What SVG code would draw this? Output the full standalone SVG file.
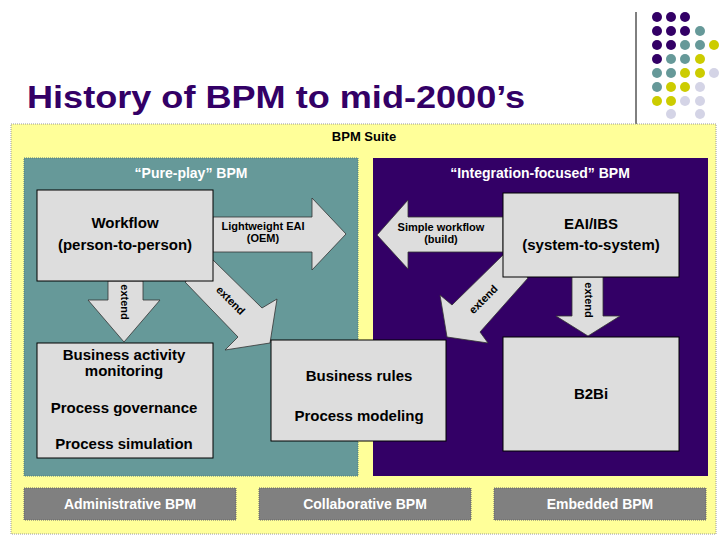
<svg xmlns="http://www.w3.org/2000/svg" width="728" height="546" viewBox="0 0 728 546">
<style>
text{font-family:"Liberation Sans",Arial,sans-serif;font-weight:bold}
.box{fill:#dddddd;stroke:#000;stroke-width:1}
.arr{fill:#dddddd;stroke:#333;stroke-width:0.8}
.t{font-size:15px;fill:#000;text-anchor:middle}
.s{font-size:11px;fill:#000;text-anchor:middle}
.e{font-size:11px;fill:#000;text-anchor:middle}
.h{font-size:14px;fill:#fff;text-anchor:middle}
.bot{fill:#808080;stroke:#666;stroke-dasharray:1 1}
.p{fill:#330066}.g{fill:#669999}.y{fill:#cccc00}.l{fill:#d4d4e6}
</style>
<rect width="728" height="546" fill="#fff"/>
<text x="27" y="108" font-size="32" fill="#330066" textLength="498" lengthAdjust="spacingAndGlyphs">History of BPM to mid-2000’s</text>
<line x1="636" y1="12" x2="636" y2="124" stroke="#000" stroke-width="1"/>
<g id="dots">
<circle class="p" cx="657" cy="17" r="5"/><circle class="p" cx="671" cy="17" r="5"/><circle class="p" cx="685" cy="17" r="5"/>
<circle class="p" cx="657" cy="31" r="5"/><circle class="p" cx="671" cy="31" r="5"/><circle class="p" cx="685" cy="31" r="5"/><circle class="g" cx="700" cy="31" r="5"/>
<circle class="p" cx="657" cy="45" r="5"/><circle class="p" cx="671" cy="45" r="5"/><circle class="g" cx="685" cy="45" r="5"/><circle class="g" cx="700" cy="45" r="5"/><circle class="y" cx="714" cy="45" r="5"/>
<circle class="p" cx="657" cy="59" r="5"/><circle class="g" cx="671" cy="59" r="5"/><circle class="g" cx="685" cy="59" r="5"/><circle class="y" cx="700" cy="59" r="5"/>
<circle class="g" cx="657" cy="73" r="5"/><circle class="g" cx="671" cy="73" r="5"/><circle class="y" cx="685" cy="73" r="5"/><circle class="y" cx="700" cy="73" r="5"/><circle class="l" cx="714" cy="73" r="5"/>
<circle class="g" cx="657" cy="87" r="5"/><circle class="y" cx="671" cy="87" r="5"/><circle class="y" cx="685" cy="87" r="5"/><circle class="l" cx="700" cy="87" r="5"/>
<circle class="y" cx="657" cy="101" r="5"/><circle class="y" cx="671" cy="101" r="5"/><circle class="l" cx="685" cy="101" r="5"/><circle class="l" cx="700" cy="101" r="5"/>
<circle class="l" cx="671" cy="114" r="5"/><circle class="l" cx="700" cy="114" r="5"/>
</g>
<g id="suite">
<rect x="11" y="124" width="705" height="410" fill="#ffff99" stroke="#999" stroke-dasharray="1 1"/>
<text x="364" y="141" font-size="13" text-anchor="middle">BPM Suite</text>
</g>
<g id="pureplay">
<rect x="24" y="158" width="334" height="318" fill="#669999" stroke="#557f7f" stroke-dasharray="1 1"/>
<text class="h" x="191" y="178">“Pure-play” BPM</text>
</g>
<g id="integration">
<rect x="373" y="158" width="335" height="318" fill="#330066"/>
<text class="h" x="540" y="178">“Integration-focused” BPM</text>
</g>
<g id="connectors">
<polygon class="arr" points="213,217 312,217 312,198 346,234 312,270 312,252 213,252"/>
<text class="s" x="263" y="230">Lightweight EAI</text><text class="s" x="263" y="242">(OEM)</text>
<polygon class="arr" points="503,217 408,217 408,200 377,235 408,269 408,252 503,252"/>
<text class="s" x="441" y="231">Simple workflow</text><text class="s" x="441" y="243">(build)</text>
<polygon class="arr" points="108,281 143,281 143,300 160,300 124,342 88,300 108,300"/>
<text class="e" transform="translate(121,302) rotate(90)">extend</text>
<polygon class="arr" points="572,277 603,277 603,316 620,316 588,336 556,316 572,316"/>
<text class="e" transform="translate(585,300) rotate(90)">extend</text>
<polygon class="arr" points="213,260 262,308 277,299 270,343 225,350 238,337 185,282"/>
<text class="e" transform="translate(228,303) rotate(45)">extend</text>
<polygon class="arr" points="503,255 452,305 440,295 447,337 488,343 480,332 528,278"/>
<text class="e" transform="translate(486,302) rotate(-45)">extend</text>
</g>
<g id="workflow"><rect class="box" x="37" y="190" width="176" height="91"/>
<text class="t" x="125" y="228">Workflow</text><text class="t" x="125" y="250">(person-to-person)</text></g>
<g id="eai"><rect class="box" x="503" y="193" width="176" height="84"/>
<text class="t" x="591" y="229">EAI/IBS</text><text class="t" x="591" y="250">(system-to-system)</text></g>
<g id="bam"><rect class="box" x="37" y="343" width="176" height="115"/>
<text class="t" x="124" y="360">Business activity</text><text class="t" x="124" y="376">monitoring</text>
<text class="t" x="124" y="413">Process governance</text><text class="t" x="124" y="449">Process simulation</text></g>
<g id="rules"><rect class="box" x="271" y="340" width="175" height="101"/>
<text class="t" x="359" y="381">Business rules</text><text class="t" x="359" y="421">Process modeling</text></g>
<g id="b2bi"><rect class="box" x="503" y="337" width="176" height="114"/>
<text class="t" x="591" y="399">B2Bi</text></g>
<g id="admin"><rect class="bot" x="24" y="488" width="212" height="32"/><text class="h" x="130" y="509">Administrative BPM</text></g>
<g id="collab"><rect class="bot" x="259" y="488" width="212" height="32"/><text class="h" x="365" y="509">Collaborative BPM</text></g>
<g id="embedded"><rect class="bot" x="494" y="488" width="212" height="32"/><text class="h" x="600" y="509">Embedded BPM</text></g>
</svg>
